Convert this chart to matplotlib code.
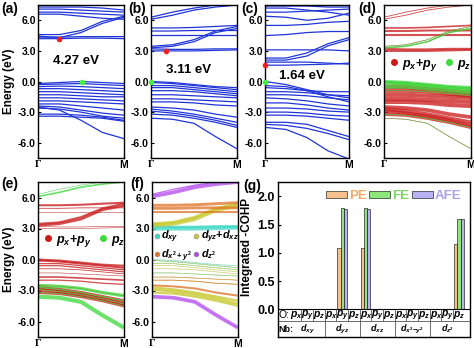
import numpy as np
import matplotlib.pyplot as plt
from matplotlib.lines import Line2D

plt.rcParams['font.family'] = 'Liberation Sans'
plt.rcParams['font.weight'] = 'bold'
plt.rcParams['mathtext.fontset'] = 'custom'
plt.rcParams['mathtext.it'] = 'Liberation Sans:italic:bold'
plt.rcParams['mathtext.rm'] = 'Liberation Sans:bold'

#%% data
kpts = [0.0, 0.25, 0.5, 0.75, 1.0]

# (a) PE bands, gap 4.27 eV
bands_a = [
    [4.2, 4.2, 4.25, 4.25, 4.2], [4.35, 4.35, 4.4, 4.4, 4.4],
    [4.45, 4.3, 4.8, 5.7, 6.3], [4.6, 4.6, 5.0, 5.9, 6.4],
    [6.6, 6.6, 6.4, 6.2, 6.1], [6.8, 6.8, 6.7, 6.6, 6.5],
    [7.1, 7.1, 7.0, 6.9, 6.8], [7.3, 7.3, 7.3, 7.2, 7.0],
    [-0.2, -0.1, 0.0, -0.1, -0.2], [-0.3, -0.25, -0.2, -0.3, -0.4],
    [-0.5, -0.45, -0.5, -0.6, -0.7], [-0.7, -0.7, -0.8, -0.9, -1.0],
    [-1.0, -1.0, -1.1, -1.2, -1.3], [-1.3, -1.3, -1.4, -1.5, -1.5],
    [-1.6, -1.6, -1.7, -1.8, -1.9], [-1.9, -1.9, -2.0, -2.1, -2.2],
    [-2.2, -2.2, -2.4, -2.6, -2.8], [-2.4, -2.5, -2.8, -3.1, -3.3],
    [-2.6, -2.7, -3.0, -3.4, -3.6], [-3.2, -3.2, -3.3, -3.5, -3.8],
    [-3.4, -3.4, -3.5, -3.6, -3.9], [-2.5, -2.8, -3.8, -5.0, -5.6],
]
# (b) FE bands, gap 3.11 eV (also used in d, e, f)
bands_b = [
    [3.0, 3.0, 3.0, 3.05, 3.1], [3.2, 3.15, 3.15, 3.2, 3.2],
    [3.3, 3.45, 3.9, 4.8, 5.2], [3.45, 3.6, 4.1, 4.95, 5.4],
    [4.6, 4.6, 4.6, 4.6, 4.6], [4.95, 4.95, 5.0, 5.0, 5.0],
    [5.25, 5.25, 5.3, 5.4, 5.5], [6.1, 6.5, 7.0, 7.3, 7.5],
    [6.3, 6.8, 7.2, 7.5, 7.7],
    [0.0, -0.1, -0.3, -0.5, -0.6], [-0.1, -0.2, -0.4, -0.6, -0.8],
    [-0.4, -0.4, -0.6, -0.8, -1.0], [-0.6, -0.6, -0.8, -1.0, -1.2],
    [-0.9, -0.9, -1.0, -1.2, -1.4], [-1.3, -1.3, -1.4, -1.5, -1.6],
    [-1.7, -1.7, -1.8, -1.9, -2.0], [-2.0, -2.0, -2.1, -2.3, -2.4],
    [-2.5, -2.6, -2.8, -3.2, -3.5], [-2.7, -2.9, -3.2, -3.6, -4.0],
    [-2.9, -3.1, -3.4, -3.8, -4.3], [-3.2, -3.3, -3.6, -4.0, -4.5],
    [-3.6, -3.7, -4.1, -5.4, -6.6],
]
# (c) AFE bands, gap 1.64 eV
bands_c = [
    [1.6, 1.6, 1.65, 1.7, 1.8], [1.9, 1.9, 1.9, 1.8, 1.7],
    [2.1, 2.1, 2.5, 3.5, 4.1], [2.3, 2.3, 2.8, 3.7, 4.3],
    [3.1, 3.1, 3.1, 3.1, 3.0], [4.5, 4.6, 4.8, 4.9, 4.9],
    [5.5, 5.5, 5.6, 5.8, 5.9], [6.4, 6.3, 6.0, 6.2, 6.7],
    [6.8, 6.8, 6.9, 7.0, 7.1], [7.2, 7.2, 7.0, 6.8, 6.5],
    [7.4, 7.4, 7.4, 7.3, 7.3],
    [0.0, -0.3, -0.8, -1.3, -1.6], [-0.4, -0.5, -0.9, -1.5, -2.0],
    [-0.6, -0.7, -0.9, -1.0, -1.0], [-1.0, -1.0, -1.1, -1.3, -1.4],
    [-1.3, -1.3, -1.4, -1.6, -1.8], [-1.6, -1.7, -1.9, -2.2, -2.4],
    [-2.1, -2.1, -2.3, -2.6, -2.8], [-2.6, -2.6, -2.7, -2.9, -3.0],
    [-3.0, -3.0, -3.1, -3.3, -3.4], [-3.3, -3.3, -3.4, -3.6, -3.8],
    [-4.0, -4.0, -4.2, -4.8, -5.4], [-4.2, -4.3, -4.6, -5.1, -5.7],
    [-4.5, -4.7, -5.5, -6.8, -7.6],
]
gaps = ['4.27 eV', '3.11 eV', '1.64 eV']
gap_y = [1.97, 1.15, 0.56]
cbm = [(0.24, 4.2), (0.18, 3.0), (0.0, 1.64)]
vbm = [(0.51, 0.0), (0.0, 0.0), (0.0, 0.0)]

# orbital weights on bands_b
d_pxpy = [0.5, 0.5, 0.1, 0.1, 0.5, 0.5, 0.4, 0.2, 0.2,
          0.1, 0.2, 0.5, 0.6, 1.0, 1.0, 1.0, 1.0, 0.9, 0.9, 0.8, 0.8, 0.05]
d_pz = [0.0, 0.0, 0.4, 0.1, 0.0, 0.0, 0.0, 0.0, 0.0,
        0.8, 0.8, 0.6, 0.5, 0.2, 0.0, 0.0, 0.0, 0.0, 0.0, 0.0, 0.2, 0.05]
e_pxpy = [0.05, 0.05, 0.6, 0.5, 0.1, 0.2, 0.5, 0.0, 0.0,
          0.5, 0.5, 0.3, 0.3, 0.2, 0.1, 0.4, 0.3, 0.2, 0.8, 0.8, 0.7, 0.0]
e_pz = [0.0, 0.0, 0.0, 0.0, 0.0, 0.0, 0.0, 0.4, 0.1,
        0.0, 0.0, 0.0, 0.0, 0.0, 0.0, 0.0, 0.0, 0.8, 0.3, 0.2, 0.2, 1.0]
f_dxy = [1.0, 0.6, 0.0, 0.0, 0.0, 0.0, 0.0, 0.0, 0.0,
         0.05, 0.05, 0.05, 0.0, 0.0, 0.05, 0.0, 0.0, 0.0, 0.0, 0.0, 0.0, 0.0]
f_dyz = [0.0, 0.0, 0.9, 0.7, 0.0, 0.0, 0.0, 0.0, 0.0,
         0.0, 0.1, 0.05, 0.1, 0.05, 0.1, 0.1, 0.1, 0.0, 0.6, 0.6, 0.5, 0.0]
f_dx2 = [0.0, 0.0, 0.0, 0.0, 0.5, 0.7, 0.7, 0.0, 0.0,
         0.0, 0.0, 0.0, 0.0, 0.0, 0.0, 0.1, 0.2, 0.5, 0.0, 0.0, 0.0, 0.0]
f_dz2 = [0.0, 0.0, 0.0, 0.0, 0.0, 0.0, 0.0, 0.9, 0.3,
         0.0, 0.0, 0.0, 0.0, 0.0, 0.0, 0.0, 0.0, 0.0, 0.0, 0.0, 0.0, 0.9]

# (g) integrated -COHP, O p (px,py,pz) x Nb d (dxy,dyz,dxz,dx2-y2,dz2)
cohp_pe = [0, 0, 0, 0, 1.08, 0.015, 1.08, 0, 0.015, 0, 0, 0, 0.015, 0.015, 1.15]
cohp_fe = [0, 0, 0, 0, 1.80, 0.015, 1.80, 0, 0.015, 0, 0, 0, 0.015, 0.015, 1.61]
cohp_afe = [0, 0, 0, 0, 1.78, 0.015, 1.78, 0, 0.015, 0, 0, 0, 0.015, 0.015, 1.60]
o_orbs = [r'$p_x$', r'$p_y$', r'$p_z$'] * 5
nb_orbs = [r'$d_{xy}$', r'$d_{yz}$', r'$d_{xz}$', r'$d_{x^2\!-\!y^2}$', r'$d_{z^2}$']

#%% figure
W, H = 474, 348
fig = plt.figure(figsize=(W / 100, H / 100), dpi=100)

def rect(l, t, r, b):
    return [l / W, 1 - b / H, (r - l) / W, (b - t) / H]

def band_axes(r):
    ax = fig.add_axes(r)
    ax.set_xlim(0, 1)
    ax.set_ylim(-7.5, 7.5)
    ax.set_xticks([0, 1])
    ax.set_xticklabels(['Γ', 'M'])
    ax.get_xticklabels()[0].set_fontfamily('Liberation Serif')
    ax.set_yticks([-6, -3, 0, 3, 6])
    ax.set_yticklabels(['-6.0', '-3.0', '0.0', '3.0', '6.0'])
    ax.tick_params(direction='in', length=2, labelsize=7.5, pad=1.5)
    for s in ax.spines.values():
        s.set_linewidth(1.0)
    return ax

blue = '#2035d8'
red = '#cc1a1a'
green = '#3ddc3d'
orb_cols = ['#3fd9c8', '#c9c92a', '#e0752a', '#b548f0']

axes_top = [rect(38, 5, 124, 158), rect(151, 5, 237, 158), rect(265, 5, 349, 158)]
for r, bands, gap, gy, cb, vb in zip(axes_top, [bands_a, bands_b, bands_c],
                                     gaps, gap_y, cbm, vbm):
    ax = band_axes(r)
    for b in bands:
        ax.plot(kpts, b, color=blue, lw=0.9)
    ax.plot(*cb, 'o', color='#ee2020', ms=3, zorder=5, clip_on=False)
    ax.plot(*vb, 'o', color='#44ee44', ms=3, zorder=5, clip_on=False)
    ax.text(0.44, gy, gap, ha='center', va='center', fontsize=9.5, fontweight='bold')

def fat(ax, weights, color, scale=3.0):
    for b, w in zip(bands_b, weights):
        if w > 0:
            ax.plot(kpts, b, color=color, lw=max(w * scale, 0.4), alpha=0.75,
                    solid_capstyle='butt')

def faint(ax):
    for b in bands_b:
        ax.plot(kpts, b, color='#c8c8c8', lw=0.5, ls=(0, (1, 1)))

def p_legend(ax, ypos):
    ax.legend(handles=[Line2D([], [], marker='o', ls='', color=red, ms=4),
                       Line2D([], [], marker='o', ls='', color=green, ms=4)],
              labels=[r'$p_x$+$p_y$', r'$p_z$'], ncol=2, frameon=False,
              loc='center left', bbox_to_anchor=(0.0, ypos), borderaxespad=0,
              handlelength=0.8, handletextpad=0.2, columnspacing=0.6, fontsize=9)

# (d)
axd = band_axes(rect(384, 5, 471, 158))
faint(axd)
fat(axd, d_pxpy, red)
fat(axd, d_pz, green)
p_legend(axd, 0.61)

# (e)
axe = band_axes(rect(38, 182, 124, 337))
faint(axe)
fat(axe, e_pxpy, red)
fat(axe, e_pz, green)
p_legend(axe, 0.62)

# (f)
axf = band_axes(rect(152, 182, 238, 337))
faint(axf)
for wts, c in zip([f_dxy, f_dyz, f_dx2, f_dz2], orb_cols):
    fat(axf, wts, c)
f_labels = [r'$d_{xy}$', r'$d_{x^2+y^2}$', r'$d_{yz}$+$d_{xz}$', r'$d_{z^2}$']
f_cols = [orb_cols[0], orb_cols[2], orb_cols[1], orb_cols[3]]
axf.legend(handles=[Line2D([], [], marker='o', ls='', color=c, mfc=c, mec='#888888',
                           mew=0.4, ms=3.5) for c in f_cols],
           labels=f_labels, ncol=2, frameon=False, loc='center left',
           bbox_to_anchor=(0.02, 0.585), borderaxespad=0, borderpad=0,
           handlelength=0.6, handletextpad=0.1, columnspacing=0.1,
           labelspacing=0.2, fontsize=7.8)

# (g)
axg = fig.add_axes(rect(278, 182, 469.5, 337))
x = np.arange(15)
w = 0.28
pe_c, fe_c, afe_c = '#f5c08e', '#8fe67c', '#b9b2f2'
axg.bar(x - w, cohp_pe, w, color=pe_c, edgecolor='k', lw=0.4, label='PE')
axg.bar(x, cohp_fe, w, color=fe_c, edgecolor='k', lw=0.4, label='FE')
axg.bar(x + w, cohp_afe, w, color=afe_c, edgecolor='k', lw=0.4, label='AFE')
axg.set_xlim(-1.5, 14.9)
axg.set_ylim(-0.487, 2.256)
axg.set_xticks([])
axg.set_yticks([0, 0.5, 1.0, 1.5, 2.0])
axg.set_yticklabels(['0.0', '0.5', '1.0', '1.5', '2.0'])
axg.tick_params(direction='in', length=2.5, labelsize=9, pad=2)
for s in axg.spines.values():
    s.set_linewidth(1.0)
# table under the bars
row = -0.21
axg.axhline(0, color='k', lw=0.8)
axg.axhline(row, color='#555555', lw=0.6)
axg.vlines(x[:-1] + 0.5, row, 0, color='#555555', lw=0.6)
axg.vlines([2.5, 5.5, 8.5, 11.5], -0.487, row, color='#555555', lw=0.6)
for xi, lab in zip(x, o_orbs):
    axg.text(xi + 0.05, row / 2, lab, ha='center', va='center', fontsize=7.5)
axg.text(-1.45, row / 2, 'O:', ha='left', va='center', fontsize=7.5, fontweight='normal')
axg.text(-1.45, (row - 0.487) / 2, 'Nb:', ha='left', va='center', fontsize=6.5)
for xi, lab in zip([1, 4, 7, 10, 13], nb_orbs):
    axg.text(xi, (row - 0.487) / 2, lab, ha='center', va='center', fontsize=6.5)
axg.legend(ncol=3, frameon=False, loc='upper right', bbox_to_anchor=(1.0, 1.0),
           borderaxespad=0.2, handlelength=1.6, handleheight=0.4,
           handletextpad=0.15, columnspacing=0.2, fontsize=9.5,
           labelcolor=['#f5a86a', '#7ad964', '#a9a0f2'])
fig.text(247 / W, 1 - 247 / H, 'Integrated -COHP', rotation=90, ha='center',
         va='center', fontsize=8.5, fontweight='bold')

# labels
for lab, xx, yy in [('(a)', 1, 2), ('(b)', 128, 2), ('(c)', 241, 2), ('(d)', 358, 2),
                    ('(e)', 1, 177), ('(f)', 130, 177), ('(g)', 243, 179)]:
    fig.text(xx / W, 1 - yy / H, lab, ha='left', va='top', fontsize=10, fontweight='bold')
for yy in [81.5, 259.5]:
    fig.text(9 / W, 1 - yy / H, 'Energy (eV)', rotation=90, ha='center', va='center',
             fontsize=8.5, fontweight='bold')

fig.savefig('out.png', dpi=100)
